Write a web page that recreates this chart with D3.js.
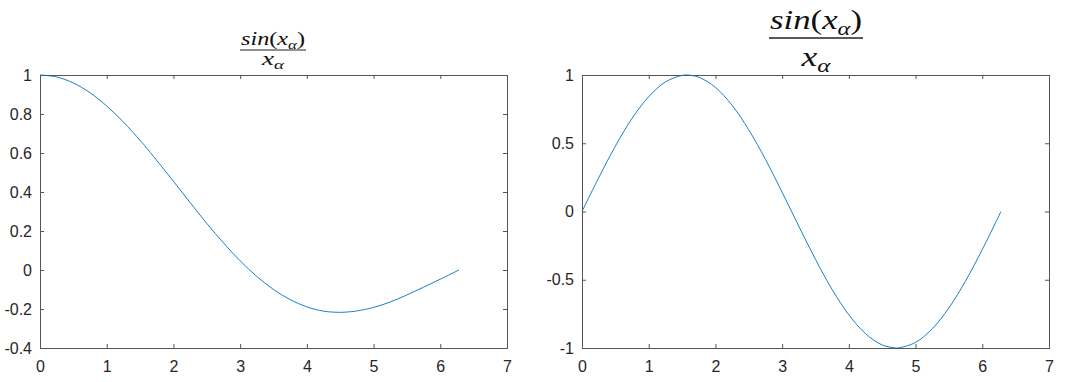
<!DOCTYPE html>
<html>
<head>
<meta charset="utf-8">
<script src="https://cdn.jsdelivr.net/npm/d3@7"></script>
<style>
  html, body { margin: 0; padding: 0; background: #fff; }
  svg { display: block; }
</style>
</head>
<body>
<svg id="chart" width="1080" height="382"></svg>
<script>
// --- Data ---
const xTicks = [0, 1, 2, 3, 4, 5, 6, 7];
const leftYTicks = [-0.4, -0.2, 0, 0.2, 0.4, 0.6, 0.8, 1];
const rightYTicks = [-1, -0.5, 0, 0.5, 1];

const xs = [0, 0.25, 0.5, 0.75, 1, 1.25, 1.5, 1.57, 1.75, 2, 2.25, 2.5, 2.75, 3, 3.25, 3.5,
            3.75, 4, 4.25, 4.5, 4.71, 4.75, 5, 5.25, 5.5, 5.75, 6, 6.28];
const sincValues = [1, 0.990, 0.959, 0.909, 0.841, 0.759, 0.665, 0.637, 0.562, 0.455, 0.346, 0.239,
                    0.139, 0.047, -0.033, -0.100, -0.152, -0.189, -0.211, -0.217, -0.212, -0.210,
                    -0.192, -0.164, -0.128, -0.088, -0.047, 0];
const sinValues = [0, 0.247, 0.479, 0.682, 0.841, 0.949, 0.997, 1, 0.984, 0.909, 0.778, 0.598,
                   0.382, 0.141, -0.108, -0.351, -0.572, -0.757, -0.895, -0.978, -1, -0.999,
                   -0.959, -0.859, -0.706, -0.508, -0.279, 0];

const svg = d3.select('#chart');
const axisColor = '#555';
const lineColor = '#0072BD';
const tickFont = '"Liberation Sans", Arial, sans-serif';
const mathFont = '"Liberation Serif", "DejaVu Serif", serif';

// --- One subplot ---
function drawPanel(left, yDomain, yTicks, values) {
  const top = 75, bottom = 348, width = 467;
  const x = d3.scaleLinear().domain([0, 7]).range([left, left + width]);
  const y = d3.scaleLinear().domain(yDomain).range([bottom, top]);
  const fmt = d => String(d);

  const g = svg.append('g');

  // box, MATLAB style: ticks point inward on all four sides
  const axes = [
    [d3.axisBottom(x).tickValues(xTicks).tickSize(-4).tickPadding(13).tickFormat(fmt), `translate(0,${bottom})`],
    [d3.axisTop(x).tickValues(xTicks).tickSize(-4).tickFormat(''), `translate(0,${top})`],
    [d3.axisLeft(y).tickValues(yTicks).tickSize(-4).tickPadding(8).tickFormat(fmt), `translate(${left},0)`],
    [d3.axisRight(y).tickValues(yTicks).tickSize(-4).tickFormat(''), `translate(${left + width},0)`]
  ];
  axes.forEach(([ax, tr]) => {
    const a = g.append('g').attr('transform', tr).call(ax);
    a.select('.domain').attr('stroke', axisColor).attr('stroke-width', 1);
    a.selectAll('.tick line').attr('stroke', axisColor);
    a.selectAll('.tick text')
      .attr('font-family', tickFont)
      .attr('font-size', 16)
      .attr('fill', '#262626');
  });

  const line = d3.line()
    .x((d, i) => x(xs[i]))
    .y(d => y(d))
    .curve(d3.curveCatmullRom);

  g.append('path')
    .datum(values)
    .attr('fill', 'none')
    .attr('stroke', lineColor)
    .attr('stroke-width', 0.9)
    .attr('d', line);
}

// --- LaTeX-like fraction title: sin(x_α) / x_α ---
function drawTitle(cx, size, numBase, numWidth, lineY, denBase, denWidth) {
  const t = svg.append('g')
    .attr('font-family', mathFont)
    .attr('fill', '#111');

  const num = t.append('text')
    .attr('x', cx - numWidth / 2).attr('y', numBase)
    .attr('font-size', size)
    .attr('textLength', numWidth)
    .attr('lengthAdjust', 'spacingAndGlyphs');
  num.append('tspan').attr('font-style', 'italic').text('sin');
  num.append('tspan').text('(');
  num.append('tspan').attr('font-style', 'italic').text('x');
  num.append('tspan').attr('font-style', 'italic').attr('font-size', size * 0.7)
    .attr('dy', size * 0.2).text('α');
  num.append('tspan').attr('dy', -size * 0.2).text(')');

  t.append('line')
    .attr('x1', cx - numWidth / 2 - 1).attr('x2', cx + numWidth / 2 + 1)
    .attr('y1', lineY).attr('y2', lineY)
    .attr('stroke', '#222').attr('stroke-width', size > 20 ? 1.5 : 1.1);

  const den = t.append('text')
    .attr('x', cx - denWidth / 2).attr('y', denBase)
    .attr('font-size', size)
    .attr('textLength', denWidth)
    .attr('lengthAdjust', 'spacingAndGlyphs');
  den.append('tspan').attr('font-style', 'italic').text('x');
  den.append('tspan').attr('font-style', 'italic').attr('font-size', size * 0.7)
    .attr('dy', size * 0.2).text('α');
}

drawPanel(40, [-0.4, 1], leftYTicks, sincValues);
drawPanel(582, [-1, 1], rightYTicks, sinValues);

drawTitle(273, 19, 45, 64, 50, 65, 22);
drawTitle(816, 28, 29, 92, 38, 66, 29);
</script>
</body>
</html>
